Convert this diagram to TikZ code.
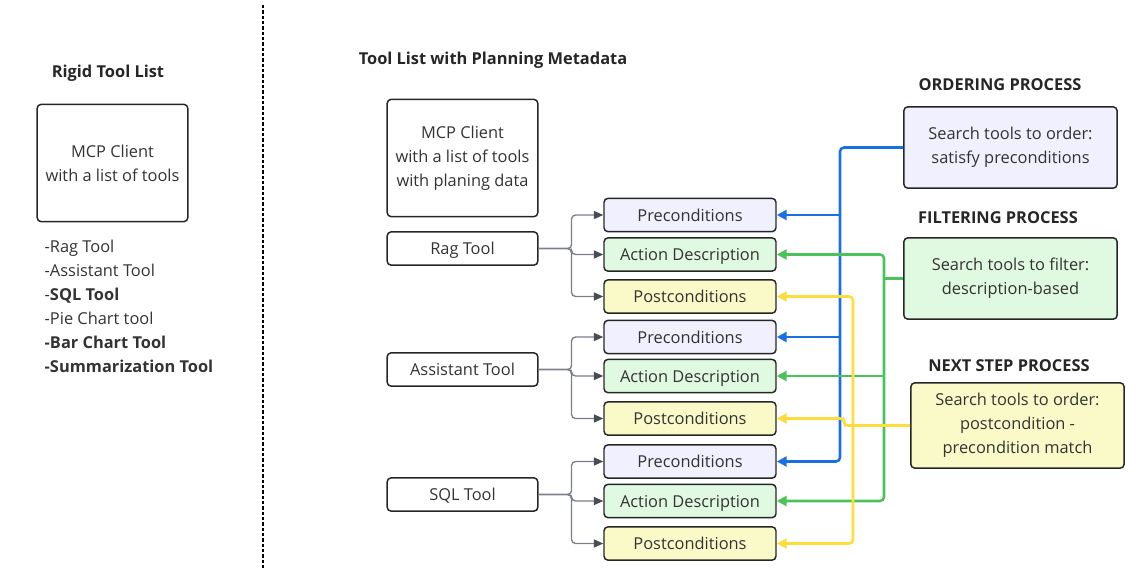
\documentclass[tikz,border=0pt]{standalone}
\usepackage{fontspec}
\setmainfont{Open Sans}
\usetikzlibrary{arrows.meta}

\definecolor{txt}{HTML}{333333}
\definecolor{prefill}{HTML}{F0F0FE}
\definecolor{actfill}{HTML}{E0F9E1}
\definecolor{postfill}{HTML}{FAFAC9}
\definecolor{bluelink}{HTML}{1A6FE3}
\definecolor{greenlink}{HTML}{4CC35A}
\definecolor{yellowlink}{HTML}{FCDD3C}
\definecolor{treelink}{HTML}{7A7F88}
\definecolor{treetip}{HTML}{474C55}

\begin{document}
\begin{tikzpicture}[x=0.75pt, y=-0.75pt,
  box/.style={draw=black!85, line width=1.1pt, rounded corners=3pt, text=txt, align=center, inner sep=0pt, font=\fontsize{12.3}{18}\selectfont},
  client/.style={box, minimum width=113pt, minimum height=88pt},
  toolbox/.style={box, minimum width=113pt, minimum height=25pt, text height=12pt, text depth=3pt},
  sub/.style={box, minimum width=129pt, minimum height=25pt, text height=12pt, text depth=3pt},
  procbox/.style={box, minimum width=160pt},
  title/.style={font=\bfseries\fontsize{12.3}{14}\selectfont, text=black!85},
  tree/.style={draw=treelink, line width=1pt, rounded corners=3pt, -{Triangle[length=7pt, width=6pt, fill=treetip, color=treetip]}},
  link/.style={line width=1.9pt, rounded corners=3pt}]
\useasboundingbox (0,0) rectangle (1140,569);

\draw[dash pattern=on 2.5pt off 1.5pt, line width=1.1pt] (263,5) -- (263,569);

\node[title] (rigid) at (108,73) {Rigid Tool List};
\node[client] (mcpL) at (112.5,163) {MCP Client\\with a list of tools};
\node[anchor=west, align=left, text=txt, font=\fontsize{12.3}{18}\selectfont] (list) at (40,306)
  {-Rag Tool\\-Assistant Tool\\-\textbf{SQL Tool}\\-Pie Chart tool\\\textbf{-Bar Chart Tool}\\\textbf{-Summarization Tool}};

\node[title] (meta) at (493,60) {Tool List with Planning Metadata};
\node[client] (mcpR) at (462.5,158) {MCP Client\\with a list of tools\\with planing data};
\node[toolbox] (rag) at (462.5,248.5) {Rag Tool};
\node[toolbox] (asst) at (462.5,369.5) {Assistant Tool};
\node[toolbox] (sql) at (462.5,494.5) {SQL Tool};

\node[sub, fill=prefill] (ragPre) at (690,215) {Preconditions};
\node[sub, fill=actfill] (ragAct) at (690,254.5) {Action Description};
\node[sub, fill=postfill] (ragPost) at (690,296.5) {Postconditions};
\node[sub, fill=prefill] (asstPre) at (690,337) {Preconditions};
\node[sub, fill=actfill] (asstAct) at (690,376) {Action Description};
\node[sub, fill=postfill] (asstPost) at (690,418.5) {Postconditions};
\node[sub, fill=prefill] (sqlPre) at (690,461.5) {Preconditions};
\node[sub, fill=actfill] (sqlAct) at (690,501) {Action Description};
\node[sub, fill=postfill] (sqlPost) at (690,543.5) {Postconditions};

\node[title] (ordT) at (1000,85) {ORDERING PROCESS};
\node[procbox, fill=prefill, minimum height=61pt] (order) at (1010.5,147.5) {Search tools to order:\\satisfy preconditions};
\node[title] (filT) at (998,218) {FILTERING PROCESS};
\node[procbox, fill=actfill, minimum height=61pt] (filter) at (1010.5,278.5) {Search tools to filter:\\description-based};
\node[title] (nxtT) at (1009,366) {NEXT STEP PROCESS};
\node[procbox, fill=postfill, minimum height=64pt] (next) at (1017.5,425.5) {Search tools to order:\\postcondition -\\precondition match};

\foreach \t in {rag,asst,sql}{
  \draw[tree] (\t.east) -- ++(33,0) |- (\t Pre.west);
  \draw[tree] (\t.east) -- ++(33,0) |- (\t Act.west);
  \draw[tree] (\t.east) -- ++(33,0) |- (\t Post.west);
}

\coordinate (bx) at (840,0);
\coordinate (gx) at (884,0);
\coordinate (yx) at (853,0);

\draw[link, bluelink, -{Triangle[length=7.5pt, width=7.5pt]}] (order.west) -| (bx |- sqlPre.east) -- (sqlPre.east);
\draw[link, bluelink, -{Triangle[length=7.5pt, width=7.5pt]}] (bx |- ragPre.east) -- (ragPre.east);
\draw[link, bluelink, -{Triangle[length=7.5pt, width=7.5pt]}] (bx |- asstPre.east) -- (asstPre.east);

\draw[link, greenlink, {Triangle[length=7.5pt, width=7.5pt]}-{Triangle[length=7.5pt, width=7.5pt]}] (ragAct.east) -| (gx |- sqlAct.east) -- (sqlAct.east);
\draw[link, greenlink, -{Triangle[length=7.5pt, width=7.5pt]}] (gx |- asstAct.east) -- (asstAct.east);
\draw[link, greenlink] (filter.west) -- (gx |- filter.west);

\draw[link, yellowlink, {Triangle[length=7.5pt, width=7.5pt]}-{Triangle[length=7.5pt, width=7.5pt]}] (ragPost.east) -| (yx |- sqlPost.east) -- (sqlPost.east);
\draw[link, yellowlink, -{Triangle[length=7.5pt, width=7.5pt]}] (next.west) -- ++(-66,0) |- (asstPost.east);
\end{tikzpicture}
\end{document}
